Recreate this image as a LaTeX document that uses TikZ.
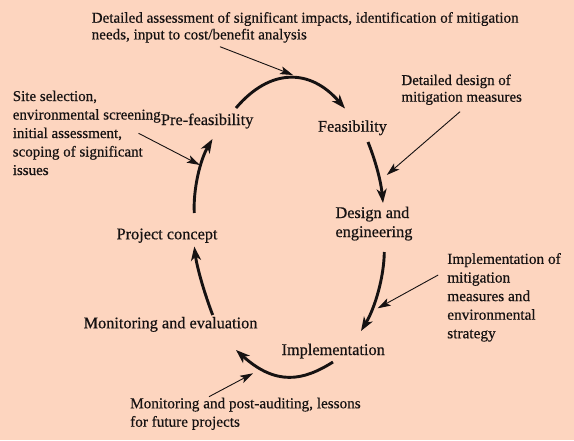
\documentclass[tikz,border=0pt]{standalone}
\usepackage{fontspec}
\setmainfont{Liberation Serif}[FakeBold=0.5]
\usetikzlibrary{arrows.meta}
\definecolor{bgpeach}{RGB}{253,213,191}
\definecolor{ink}{RGB}{22,18,18}
\begin{document}
\begin{tikzpicture}[x=1pt,y=-1pt,
  note/.style={anchor=base west,inner sep=0pt,outer sep=0pt,align=left,text=ink},
  stage/.style={anchor=base west,inner sep=0pt,outer sep=0pt,align=left,text=ink,font=\fontsize{16.3}{19}\selectfont},
  cyc/.style={draw=ink,line width=2.9pt,-{Stealth[length=14pt,width=10pt,inset=4pt]}},
  lead/.style={draw=ink,line width=0.9pt,-{Stealth[length=13pt,width=8pt,inset=3pt]}}]
\fill[bgpeach] (0,0) rectangle (574,440);
\useasboundingbox (0,0) rectangle (574,440);

% annotations (anchored at the baseline of their last line)
\node[note,font=\fontsize{15.1}{16.7}\selectfont] (assess) at (91.7,39.4)
  {Detailed assessment of significant impacts, identification of mitigation\\needs, input to cost/benefit analysis};
\node[note,font=\fontsize{14.9}{16.7}\selectfont] (ddesign) at (401.5,101.7)
  {Detailed design of\\mitigation measures};
\node[note,font=\fontsize{15}{18.5}\selectfont] (site) at (12.8,175)
  {Site selection,\\environmental screening\\initial assessment,\\scoping of significant\\issues};
\node[note,font=\fontsize{15.3}{18.6}\selectfont] (implmit) at (447.3,338.3)
  {Implementation of\\mitigation\\measures and\\environmental\\strategy};
\node[note,font=\fontsize{15.2}{18.4}\selectfont] (audit) at (130.2,426.7)
  {Monitoring and post-auditing, lessons\\for future projects};

% stages
\node[stage] (pre) at (161,125) {Pre-feasibility};
\node[stage] (fea) at (318,131.7) {Feasibility};
\node[stage] (des) at (335.5,237) {Design and\\engineering};
\node[stage] (pro) at (116.6,239.3) {Project concept};
\node[stage] (mon) at (83.6,328.3) {Monitoring and evaluation};
\node[stage] (imp) at (281.6,355) {Implementation};

% cycle arrow ends
\coordinate (preO) at (236,108);   \coordinate (feaI) at (345,108.5);
\coordinate (feaO) at (368,142);   \coordinate (desI) at (383,203);
\coordinate (desO) at (384.3,252); \coordinate (impI) at (361,331);
\coordinate (impO) at (333,362);   \coordinate (monI) at (236,350);
\coordinate (monO) at (212.7,315); \coordinate (proI) at (194.3,246.5);
\coordinate (proO) at (194.3,213); \coordinate (preI) at (212.5,139);

\draw[cyc] (preO) .. controls (270,68) and (310,68) .. (feaI);
\draw[cyc] (feaO) .. controls (376,162) and (381,182) .. (desI);
\draw[cyc] (desO) .. controls (384,277) and (375,308) .. (impI);
\draw[cyc] (impO) .. controls (303,381) and (276,386) .. (monI);
\draw[cyc] (monO) .. controls (205,295) and (197,268) .. (proI);
\draw[cyc] (proO) .. controls (193,190) and (200,160) .. (preI);

% leader arrows
\coordinate (aS) at (220,46.7);  \coordinate (aE) at (293,75);
\coordinate (bS) at (460,111.7); \coordinate (bE) at (386.8,175);
\coordinate (cS) at (138.6,133.3); \coordinate (cE) at (199.8,165);
\coordinate (dS) at (438.2,275); \coordinate (dE) at (377.7,308.3);
\coordinate (eS) at (209,396.7); \coordinate (eE) at (253,373.3);
\draw[lead] (aS) -- (aE);
\draw[lead] (bS) -- (bE);
\draw[lead] (cS) -- (cE);
\draw[lead] (dS) -- (dE);
\draw[lead] (eS) -- (eE);
\end{tikzpicture}
\end{document}
